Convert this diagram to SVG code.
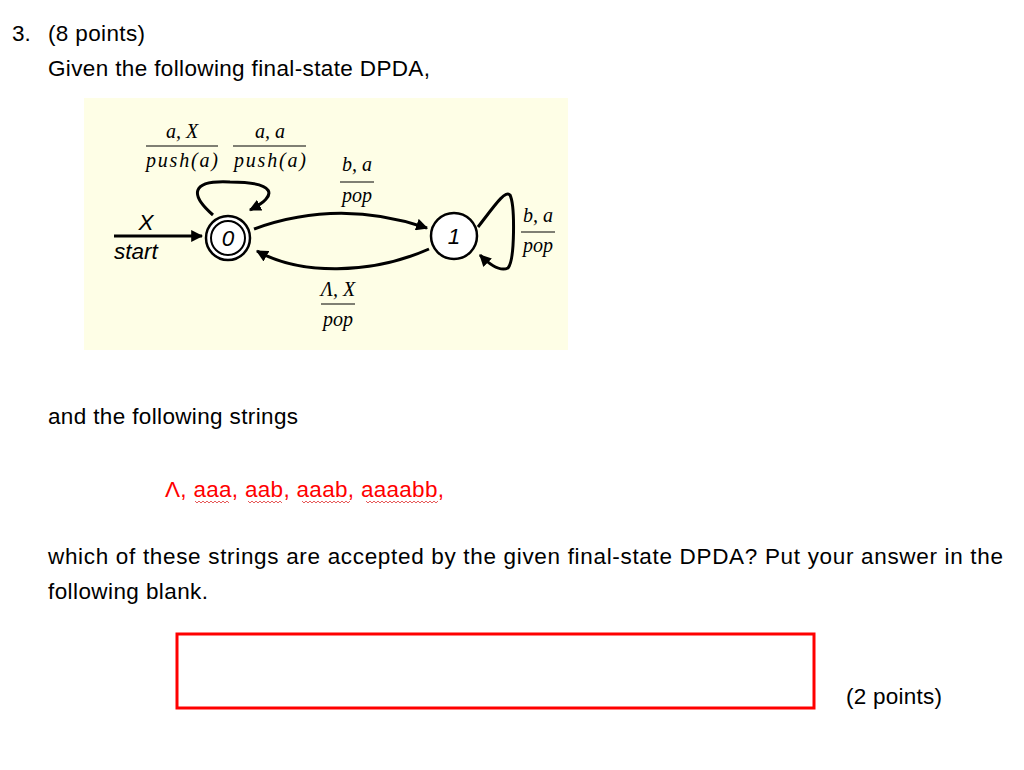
<svg xmlns="http://www.w3.org/2000/svg" width="1024" height="770" viewBox="0 0 1024 770">
<style>
.t{font-family:"Liberation Sans",Arial,sans-serif;font-size:22.5px;fill:#000}
.m{font-family:"Liberation Serif","Times New Roman",serif;font-style:italic;font-size:20px;fill:#000;text-anchor:middle}
.e{fill:none;stroke:#000;stroke-width:3}
.fl{stroke:#000;stroke-width:1.2}
.sq{fill:none;stroke:#e03030;stroke-width:0.8}
</style>
<defs><marker id="ah" viewBox="0 0 10 10" refX="9" refY="5" markerWidth="4" markerHeight="4" orient="auto"><path d="M0,0L10,5L0,10z" fill="#000"/></marker></defs>
<rect width="1024" height="770" fill="#fff"/>
<text class="t" x="12" y="41">3.</text>
<text class="t" x="48" y="41" textLength="97" lengthAdjust="spacing">(8 points)</text>
<text class="t" x="48" y="76" textLength="382" lengthAdjust="spacing">Given the following final-state DPDA,</text>
<rect x="84" y="98" width="484" height="252" fill="#fefee6"/>
<g id="connectors">
<path class="e" d="M114,236 L202,236" marker-end="url(#ah)"/>
<path class="e" d="M213,215 C190,195 190,180 230,182 C275,182 280,195 250,210" marker-end="url(#ah)"/>
<path class="e" d="M254,229 C320,205 380,212 427,228" marker-end="url(#ah)"/>
<path class="e" d="M429,249 C370,275 300,275 257,251" marker-end="url(#ah)"/>
<path class="e" d="M478,227 C495,205 505,190 510,195 C515,205 515,260 508,268 C500,272 490,265 480,255" marker-end="url(#ah)"/>
</g>
<g id="s0"><circle cx="228" cy="238" r="22" fill="#fff" stroke="#000" stroke-width="2.5"/><circle cx="228" cy="238" r="17" fill="none" stroke="#000" stroke-width="2"/><text class="t" x="228" y="246" text-anchor="middle" font-style="italic">0</text></g>
<g id="s1"><circle cx="454" cy="236" r="23" fill="#fff" stroke="#000" stroke-width="2.5"/><text class="t" x="454" y="244" text-anchor="middle" font-style="italic">1</text></g>
<g id="labels">
<text class="t" x="146" y="230" text-anchor="middle" font-style="italic">X</text>
<text class="t" x="114" y="259" font-style="italic">start</text>
<text class="m" x="182" y="138">a, X</text><line class="fl" x1="146" y1="146" x2="218" y2="146"/><text class="m" x="182" y="167" textLength="72" lengthAdjust="spacing">push(a)</text>
<text class="m" x="270" y="138">a, a</text><line class="fl" x1="233" y1="146" x2="306" y2="146"/><text class="m" x="270" y="167" textLength="72" lengthAdjust="spacing">push(a)</text>
<text class="m" x="357" y="171">b, a</text><line class="fl" x1="340" y1="182" x2="374" y2="182"/><text class="m" x="357" y="202">pop</text>
<text class="m" x="538" y="222">b, a</text><line class="fl" x1="521" y1="232" x2="555" y2="232"/><text class="m" x="538" y="252">pop</text>
<text class="m" x="338" y="296">Λ, X</text><line class="fl" x1="321" y1="304" x2="355" y2="304"/><text class="m" x="338" y="326">pop</text>
</g>
<text class="t" x="48" y="424" textLength="250" lengthAdjust="spacing">and the following strings</text>
<text class="t" x="165" y="497" style="fill:#ff0000" textLength="279" lengthAdjust="spacing">Λ, aaa, aab, aaab, aaaabb,</text>
<path class="sq" d="M195,501 l2,2 l2,-2 l2,2 l2,-2 l2,2 l2,-2 l2,2 l2,-2 l2,2 l2,-2 l2,2 l2,-2 l2,2 l2,-2 l2,2 l2,-2 l2,2"/>
<path class="sq" d="M248,501 l2,2 l2,-2 l2,2 l2,-2 l2,2 l2,-2 l2,2 l2,-2 l2,2 l2,-2 l2,2 l2,-2 l2,2 l2,-2 l2,2 l2,-2 l2,2"/>
<path class="sq" d="M302,501 l2,2 l2,-2 l2,2 l2,-2 l2,2 l2,-2 l2,2 l2,-2 l2,2 l2,-2 l2,2 l2,-2 l2,2 l2,-2 l2,2 l2,-2 l2,2 l2,-2 l2,2 l2,-2 l2,2 l2,-2 l2,2 l2,-2"/>
<path class="sq" d="M366,501 l2,2 l2,-2 l2,2 l2,-2 l2,2 l2,-2 l2,2 l2,-2 l2,2 l2,-2 l2,2 l2,-2 l2,2 l2,-2 l2,2 l2,-2 l2,2 l2,-2 l2,2 l2,-2 l2,2 l2,-2 l2,2 l2,-2 l2,2 l2,-2 l2,2 l2,-2 l2,2 l2,-2 l2,2 l2,-2 l2,2 l2,-2 l2,2 l2,-2"/>
<text class="t" x="48" y="564" textLength="955" lengthAdjust="spacing">which of these strings are accepted by the given final-state DPDA? Put your answer in the</text>
<text class="t" x="48" y="599" textLength="160" lengthAdjust="spacing">following blank.</text>
<rect x="177" y="634" width="637" height="74" fill="none" stroke="#ff0000" stroke-width="3"/>
<text class="t" x="846" y="704" textLength="96" lengthAdjust="spacing">(2 points)</text>
</svg>
